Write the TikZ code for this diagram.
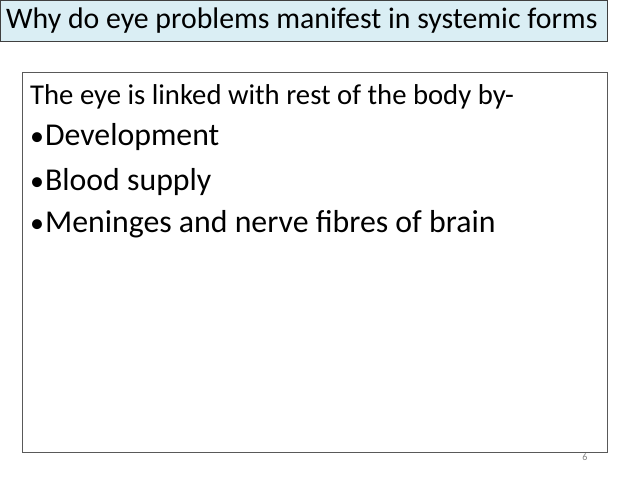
\documentclass[tikz,border=0pt]{standalone}
\usepackage{fontspec}
\setmainfont{Carlito}
\begin{document}
\begin{tikzpicture}[x=1pt,y=-1pt,
  titlebox/.style={draw=black!75,fill={rgb,255:red,218;green,238;blue,244},line width=0.8pt},
  contentbox/.style={draw=black!65,line width=0.8pt},
  txt/.style={anchor=west,inner sep=0pt,font=\fontsize{28.7}{32}\selectfont},
  btxt/.style={anchor=west,inner sep=0pt,font=\fontsize{31.8}{36}\selectfont}]
\useasboundingbox (0,0) rectangle (638,478);
\draw[titlebox] (0.5,0.5) rectangle (607,41);
\node[txt,font=\fontsize{29.8}{34}\selectfont] (title) at (6,21) {Why do eye problems manifest in systemic forms};
\draw[contentbox] (22,72) rectangle (607,452);
\node[txt] (l1) at (30,97) {The eye is linked with rest of the body by-};
\node[btxt] (l2) at (30,137) {{\fontsize{28}{32}\selectfont\textbullet}\hspace{1pt}Development};
\node[btxt] (l3) at (30,182) {{\fontsize{28}{32}\selectfont\textbullet}\hspace{1pt}Blood supply};
\node[btxt] (l4) at (30,224) {{\fontsize{28}{32}\selectfont\textbullet}\hspace{1pt}Meninges and nerve fibres of brain};
\node[font=\fontsize{10}{11}\selectfont,text=black!50] (pg) at (585,457) {6};
\end{tikzpicture}
\end{document}
